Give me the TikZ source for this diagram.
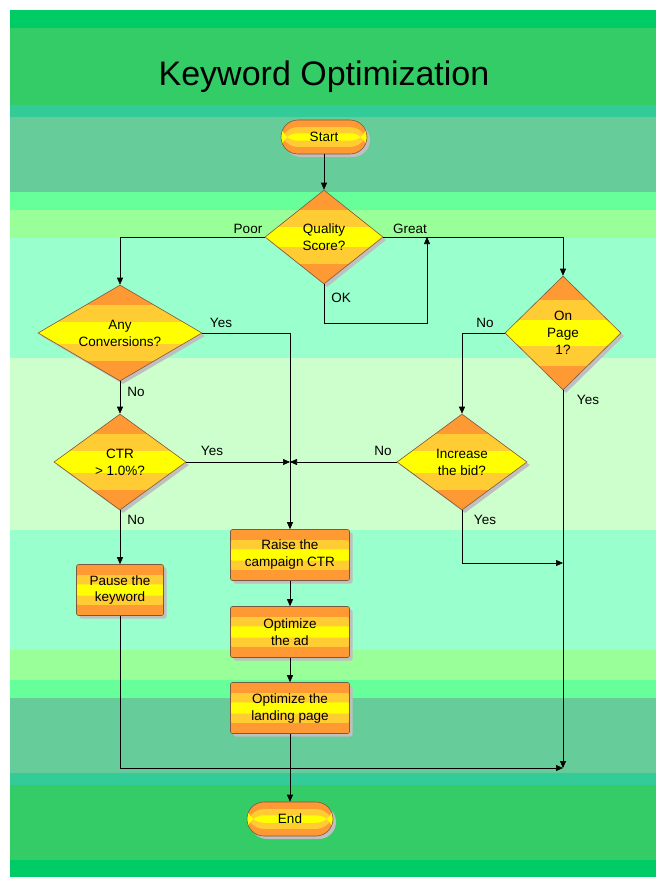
\documentclass[tikz,border=0pt]{standalone}
\usepackage{fontspec}
\setmainfont{Liberation Sans}
\usetikzlibrary{shapes.geometric,arrows.meta,calc,shadows}
\definecolor{bA}{HTML}{00CC66}\definecolor{bB}{HTML}{33CC66}\definecolor{bC}{HTML}{33CC99}
\definecolor{bD}{HTML}{66CC99}\definecolor{bE}{HTML}{66FF99}\definecolor{bF}{HTML}{99FF99}
\definecolor{bG}{HTML}{99FFCC}\definecolor{bH}{HTML}{CCFFCC}
\definecolor{stA}{HTML}{FF9933}\definecolor{stB}{HTML}{FFCC33}\definecolor{stC}{HTML}{FFFF00}
\definecolor{edge}{HTML}{7A5A40}
\begin{document}
\begin{tikzpicture}[x=1pt,y=-1pt,
  stripes/.style={path picture={
    \coordinate (ppnw) at (path picture bounding box.north west);
    \coordinate (ppse) at (path picture bounding box.south east);
    \fill[stA] (ppnw) rectangle (ppse);
    \fill[stB] ($(ppnw)!0.21!(ppnw|-ppse)$) rectangle ($(ppse|-ppnw)!0.79!(ppse)$);
    \fill[stC] ($(ppnw)!0.39!(ppnw|-ppse)$) rectangle ($(ppse|-ppnw)!0.61!(ppse)$);}},
  base/.style={stripes,draw=edge,line width=0.6pt,font=\fontsize{13.5}{17}\selectfont,align=center,
    drop shadow={shadow xshift=3pt,shadow yshift=-3pt,fill=black!25,opacity=1},inner sep=0pt},
  term/.style={base,rectangle,rounded corners=17pt,minimum width=86pt,minimum height=34pt},
  proc/.style={base,rectangle,rounded corners=2pt,minimum width=119pt,minimum height=51pt},
  dec/.style={base,diamond},
  lbl/.style={font=\fontsize{13.5}{16}\selectfont,inner sep=0pt},
  line/.style={line width=0.6pt},
  arr/.style={line,-{Triangle[length=7pt,width=6pt]}}]
\useasboundingbox (0,0) rectangle (666,887);
\fill[white] (0,0) rectangle (666,887);
\foreach \a/\b/\c in {10/28/bA,28/105/bB,105/117/bC,117/192/bD,192/210/bE,210/238/bF,238/358/bG,358/530/bH,530/650/bG,650/680/bF,680/698/bE,698/773/bD,773/785/bC,785/860/bB,860/877/bA}
  \fill[\c] (10,\a) rectangle (656,\b);
\node[font=\fontsize{34}{40}\selectfont] (title) at (324,77) {Keyword Optimization};

\node[term] (start) at (324,137) {Start};
\node[dec,aspect=1.25,minimum width=118pt,minimum height=94pt] (qs) at (324,237) {Quality\\Score?};
\node[dec,aspect=1.7,minimum width=164pt,minimum height=96pt] (conv) at (120,333) {Any\\Conversions?};
\node[dec,aspect=1.37,minimum width=132pt,minimum height=96pt] (ctr) at (120,462) {CTR\\> 1.0\%?};
\node[dec,aspect=1.0,minimum width=116pt,minimum height=114pt] (page) at (563,333) {On\\Page\\1?};
\node[dec,aspect=1.35,minimum width=130pt,minimum height=96pt] (bid) at (462,462) {Increase\\the bid?};
\node[proc,minimum width=87pt] (pause) at (120,590) {Pause the\\keyword};
\node[proc] (raise) at (290,555) {Raise the\\campaign CTR};
\node[proc] (optad) at (290,632) {Optimize\\the ad};
\node[proc] (optlp) at (290,708) {Optimize the\\landing page};
\node[term] (end) at (290,819) {End};

\coordinate (okc) at (427,323);
\coordinate (mid) at (290,462);
\coordinate (bot) at (563,768);
\coordinate (bidr) at (563,563);

\draw[arr] (start) -- (qs);
\draw[arr] (qs.west) -| (conv.north);
\draw[arr] (qs.east) -| (page.north);
\draw[arr] (qs.south) |- (okc) -- (okc|-qs.east);
\draw[arr] (conv.east) -| (raise.north);
\draw[arr] (conv) -- (ctr);
\draw[arr] (ctr.east) -- (mid);
\draw[arr] (bid.west) -- (mid);
\draw[arr] (ctr) -- (pause);
\draw[arr] (page.west) -| (bid.north);
\draw[arr] (page.south) -- (bot);
\draw[arr] (bid.south) |- (bidr);
\draw[arr] (pause.south) |- (bot);
\draw[arr] (raise) -- (optad);
\draw[arr] (optad) -- (optlp);
\draw[arr] (optlp) -- (end);

\node[lbl] (lpoor) at (248,229) {Poor};
\node[lbl] (lgreat) at (410,229) {Great};
\node[lbl] (lok) at (341,298) {OK};
\node[lbl] (lyes1) at (221,323) {Yes};
\node[lbl] (lno1) at (136,392) {No};
\node[lbl] (lyes2) at (212,451) {Yes};
\node[lbl] (lno2) at (136,520) {No};
\node[lbl] (lno3) at (383,451) {No};
\node[lbl] (lno4) at (485,323) {No};
\node[lbl] (lyes3) at (588,400) {Yes};
\node[lbl] (lyes4) at (485,520) {Yes};
\end{tikzpicture}
\end{document}
